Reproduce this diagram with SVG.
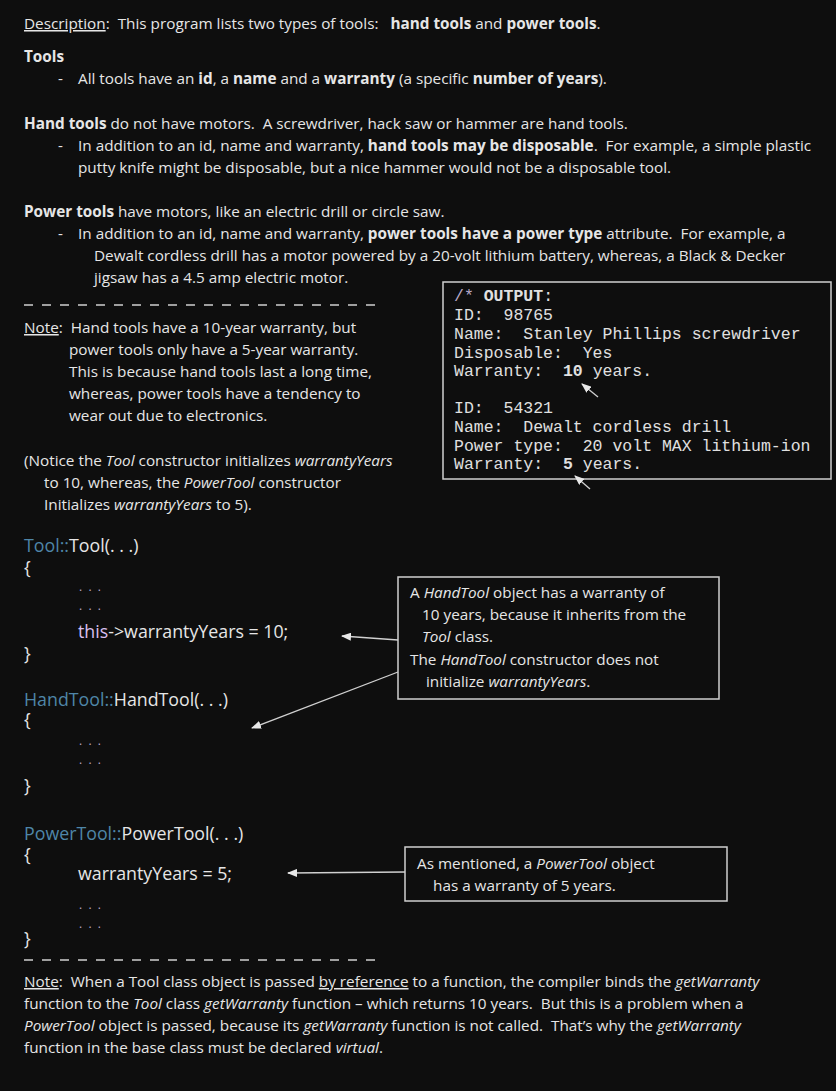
<svg xmlns="http://www.w3.org/2000/svg" width="836" height="1091" viewBox="0 0 836 1091" xml:space="preserve">
<defs>
<marker id="ah" markerWidth="10" markerHeight="8" refX="9" refY="4" orient="auto" markerUnits="userSpaceOnUse"><path d="M0,0 L10,4 L0,8 z" fill="#e8e8e8"/></marker>
<style>
text{font-family:"Open Sans",Lato,"Liberation Sans",sans-serif;font-size:15.3px;fill:#e6e6e6;white-space:pre}
.m{font-family:"Liberation Mono","Courier New",monospace;font-size:16.5px;fill:#e0e0e0}
.cd{font-size:17.8px}
.dt{font-size:12px;fill:#b9a9c8}
.b{font-weight:bold}.i{font-style:italic}.u{text-decoration:underline}
.k{fill:#4f86a8}.d{fill:#b9a9c8}
.box{fill:none;stroke:#cfcfcf;stroke-width:1.5}
.c{stroke:#d0d0d0;stroke-width:1.3;fill:none;marker-end:url(#ah)}
.dash{stroke:#cfcfcf;stroke-width:1.3;stroke-dasharray:9,9}
</style>
</defs>
<rect width="836" height="1091" fill="#0e0e0e"/>
<g id="intro">
<text x="24" y="29"><tspan class="u">Description</tspan>:  This program lists two types of tools:   <tspan class="b">hand tools</tspan> and <tspan class="b">power tools</tspan>.</text>
<text x="24" y="62" class="b">Tools</text>
<text x="58" y="84">-</text>
<text x="78" y="84">All tools have an <tspan class="b">id</tspan>, a <tspan class="b">name</tspan> and a <tspan class="b">warranty</tspan> (a specific <tspan class="b">number of years</tspan>).</text>
<text x="24" y="129"><tspan class="b">Hand tools</tspan> do not have motors.  A screwdriver, hack saw or hammer are hand tools.</text>
<text x="58" y="151">-</text>
<text x="78" y="151">In addition to an id, name and warranty, <tspan class="b">hand tools may be disposable</tspan>.  For example, a simple plastic</text>
<text x="78" y="173">putty knife might be disposable, but a nice hammer would not be a disposable tool.</text>
<text x="24" y="217"><tspan class="b">Power tools</tspan> have motors, like an electric drill or circle saw.</text>
<text x="58" y="239">-</text>
<text x="78" y="239">In addition to an id, name and warranty, <tspan class="b">power tools have a power type</tspan> attribute.  For example, a</text>
<text x="94" y="261">Dewalt cordless drill has a motor powered by a 20-volt lithium battery, whereas, a Black &amp; Decker</text>
<text x="94" y="283">jigsaw has a 4.5 amp electric motor.</text>
<line class="dash" x1="24" y1="305" x2="375" y2="305"/>
<text x="24" y="333"><tspan class="u">Note</tspan>:  Hand tools have a 10-year warranty, but</text>
<text x="69" y="355">power tools only have a 5-year warranty.</text>
<text x="69" y="377">This is because hand tools last a long time,</text>
<text x="69" y="399">whereas, power tools have a tendency to</text>
<text x="69" y="421">wear out due to electronics.</text>
<text x="24" y="466">(Notice the <tspan class="i">Tool</tspan> constructor initializes <tspan class="i">warrantyYears</tspan></text>
<text x="44" y="488">to 10, whereas, the <tspan class="i">PowerTool</tspan> constructor</text>
<text x="44" y="510">Initializes <tspan class="i">warrantyYears</tspan> to 5).</text>
</g>
<g id="output">
<rect class="box" x="443" y="282" width="388" height="197"/>
<text class="m" x="454" y="301"><tspan class="d">/*</tspan> <tspan class="b">OUTPUT</tspan>:</text>
<text class="m" x="454" y="320">ID:  98765</text>
<text class="m" x="454" y="339">Name:  Stanley Phillips screwdriver</text>
<text class="m" x="454" y="358">Disposable:  Yes</text>
<text class="m" x="454" y="376">Warranty:  <tspan class="b">10</tspan> years.</text>
<text class="m" x="454" y="413">ID:  54321</text>
<text class="m" x="454" y="432">Name:  Dewalt cordless drill</text>
<text class="m" x="454" y="451">Power type:  20 volt MAX lithium-ion</text>
<text class="m" x="454" y="469">Warranty:  <tspan class="b">5</tspan> years.</text>
</g>
<g id="code">
<text class="cd" x="24" y="552"><tspan class="k">Tool::</tspan>Tool(. . .)</text>
<text class="cd" x="24" y="574">{</text>
<text class="dt" x="79" y="591">.  .  .</text>
<text class="dt" x="79" y="610">.  .  .</text>
<text class="cd" x="78" y="638"><tspan fill="#d9c0f0">this</tspan>-&gt;warrantyYears = 10;</text>
<text class="cd" x="24" y="660">}</text>
<text class="cd" x="24" y="706"><tspan class="k">HandTool::</tspan>HandTool(. . .)</text>
<text class="cd" x="24" y="726">{</text>
<text class="dt" x="79" y="745">.  .  .</text>
<text class="dt" x="79" y="764">.  .  .</text>
<text class="cd" x="24" y="792">}</text>
<text class="cd" x="24" y="840"><tspan class="k">PowerTool::</tspan>PowerTool(. . .)</text>
<text class="cd" x="24" y="861">{</text>
<text class="cd" x="78" y="880">warrantyYears = 5;</text>
<text class="dt" x="79" y="909">.  .  .</text>
<text class="dt" x="79" y="928">.  .  .</text>
<text class="cd" x="24" y="945">}</text>
</g>
<g id="note1">
<rect class="box" x="398" y="577" width="321" height="122"/>
<text x="410" y="598">A <tspan class="i">HandTool</tspan> object has a warranty of</text>
<text x="422" y="620">10 years, because it inherits from the</text>
<text x="422" y="642"><tspan class="i">Tool</tspan> class.</text>
<text x="410" y="665">The <tspan class="i">HandTool</tspan> constructor does not</text>
<text x="426" y="687">initialize <tspan class="i">warrantyYears</tspan>.</text>
</g>
<g id="note2">
<rect class="box" x="405" y="847" width="322" height="54"/>
<text x="417" y="869">As mentioned, a <tspan class="i">PowerTool</tspan> object</text>
<text x="433" y="891">has a warranty of 5 years.</text>
</g>
<g id="connectors">
<line class="c" x1="398" y1="640" x2="342" y2="636"/>
<line class="c" x1="398" y1="672" x2="252" y2="728"/>
<line class="c" x1="405" y1="872" x2="288" y2="873"/>
<line class="c" x1="598" y1="397" x2="582" y2="384"/>
<line class="c" x1="590" y1="489" x2="575" y2="476"/>
</g>
<g id="footer">
<line class="dash" x1="24" y1="960" x2="375" y2="960"/>
<text x="24" y="987"><tspan class="u">Note</tspan>:  When a Tool class object is passed <tspan class="u">by reference</tspan> to a function, the compiler binds the <tspan class="i">getWarranty</tspan></text>
<text x="24" y="1009">function to the <tspan class="i">Tool</tspan> class <tspan class="i">getWarranty</tspan> function – which returns 10 years.  But this is a problem when a</text>
<text x="24" y="1031"><tspan class="i">PowerTool</tspan> object is passed, because its <tspan class="i">getWarranty</tspan> function is not called.  That’s why the <tspan class="i">getWarranty</tspan></text>
<text x="24" y="1053">function in the base class must be declared <tspan class="i">virtual</tspan>.</text>
</g>
</svg>
